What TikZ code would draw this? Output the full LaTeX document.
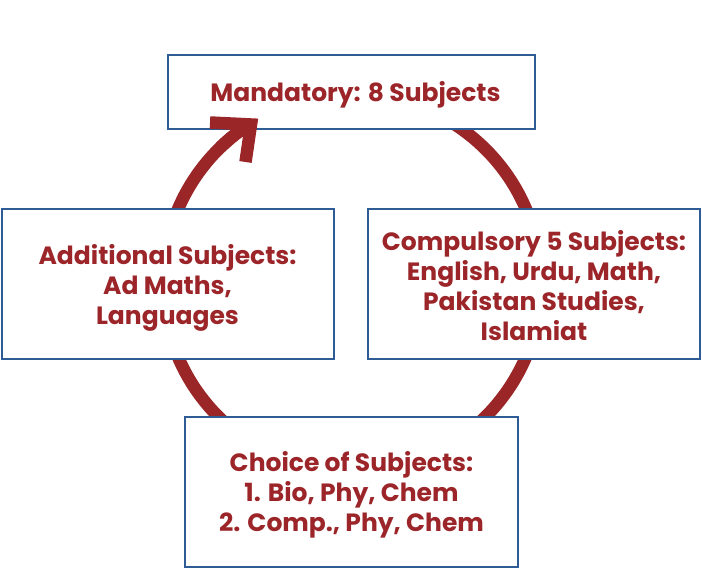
\documentclass[tikz,border=0pt]{standalone}
\usepackage{fontspec}
\setmainfont{Poppins}
\definecolor{txtred}{RGB}{155,37,41}
\definecolor{arcred}{RGB}{155,38,40}
\definecolor{boxblue}{RGB}{46,93,150}
\tikzset{
  subjbox/.style={draw=boxblue, line width=2pt, fill=white, inner sep=0pt},
  subjtext/.style={inner sep=0pt, align=center, text=txtred,
    font=\bfseries\fontsize{25}{30}\selectfont},
  cycleline/.style={draw=arcred, line width=12.5pt}
}
\begin{document}
\begin{tikzpicture}[x=1pt,y=1pt]
\useasboundingbox (0,0) rectangle (702,-569);
\coordinate (c) at (352,-283);
% the cycle behind the boxes
\draw[cycleline] (c) ++(100:189) arc[start angle=100, end angle=-236, radius=189];
% boxes
\node[subjbox, minimum width=367pt, minimum height=74pt] (top) at (351.5,-92) {};
\node[subjbox, minimum width=332pt, minimum height=150pt] (left) at (167.5,-284) {};
\node[subjbox, minimum width=332pt, minimum height=150pt] (right) at (534,-284) {};
\node[subjbox, minimum width=333pt, minimum height=150pt] (bottom) at (351.5,-492) {};
% texts
\node[subjtext, xshift=4pt, yshift=-3pt] (toptext) at (top.center) {Mandatory: 8 Subjects};
\node[subjtext, yshift=-4pt] (lefttext) at (left.center) {Additional Subjects:\\Ad Maths,\\Languages};
\node[subjtext, yshift=-1.5pt] (righttext) at (right.center) {Compulsory 5 Subjects:\\English, Urdu, Math,\\Pakistan Studies,\\Islamiat};
\node[subjtext, yshift=-3pt] (bottomtext) at (bottom.center) {Choice of Subjects:\\1. Bio, Phy, Chem\\2. Comp., Phy, Chem};
% arrow head over the top box
\draw[cycleline] (c) ++(134:189) arc[start angle=134, end angle=123, radius=189];
\draw[cycleline, miter limit=10] (210,-122.5) -- (251,-124.5) -- (245.5,-162);
\end{tikzpicture}
\end{document}
